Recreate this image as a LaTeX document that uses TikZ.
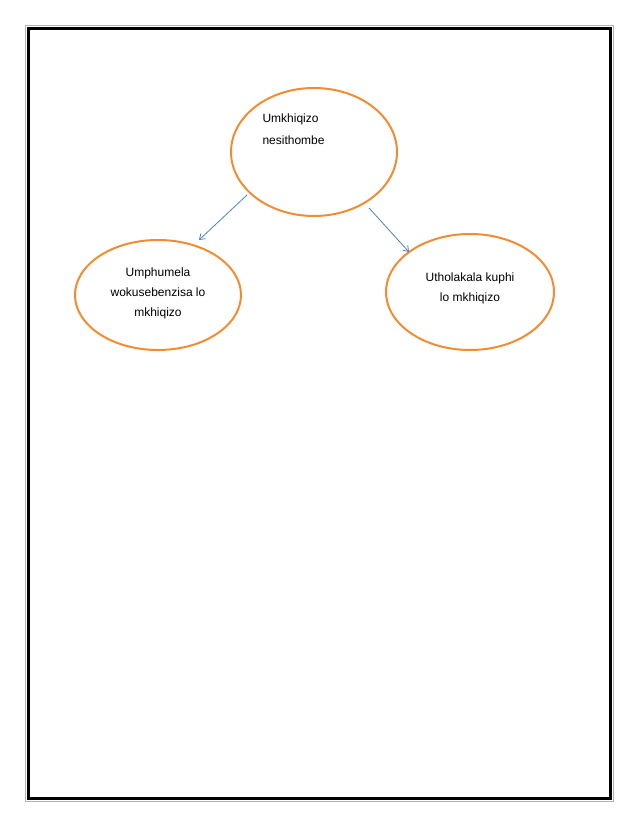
\documentclass[tikz,border=0pt]{standalone}
\usepackage{fontspec}
\setmainfont{Liberation Sans}
\usetikzlibrary{arrows.meta}
\begin{document}
\begin{tikzpicture}[x=1pt,y=-1pt,
  bub/.style={draw=orange!85!red!90!yellow,line width=2pt,ellipse},
  lbl/.style={font=\fontsize{12}{20}\selectfont,align=center},
  arr/.style={draw={rgb,255:red,79;green,129;blue,189},line width=0.8pt,-{Straight Barb[length=5pt,width=7pt]}}]
\definecolor{org}{RGB}{240,140,50}
\useasboundingbox (0,0) rectangle (638,826);
\draw[gray!60,line width=1.5pt] (25.5,25.5) rectangle (613.5,801.5);
\draw[black,line width=2.5pt] (28.5,28.5) rectangle (610.5,798.5);
\draw[org,line width=2pt] (314,152) ellipse [x radius=83,y radius=64];
\draw[org,line width=2pt] (158,295) ellipse [x radius=83,y radius=55];
\draw[org,line width=2pt] (470,292) ellipse [x radius=84,y radius=58];
\node[lbl,align=left,anchor=north west,font=\fontsize{12}{22}\selectfont] (t) at (259,110) {Umkhiqizo\\nesithombe};
\node[lbl,font=\fontsize{12}{20}\selectfont] (l) at (158,293) {Umphumela\\wokusebenzisa lo\\mkhiqizo};
\node[lbl] (r) at (470,288) {Utholakala kuphi\\lo mkhiqizo};
\coordinate (a1) at (247,195); \coordinate (a2) at (199,240);
\coordinate (b1) at (369,208); \coordinate (b2) at (409,252);
\draw[arr] (a1) -- (a2);
\draw[arr] (b1) -- (b2);
\end{tikzpicture}
\end{document}
